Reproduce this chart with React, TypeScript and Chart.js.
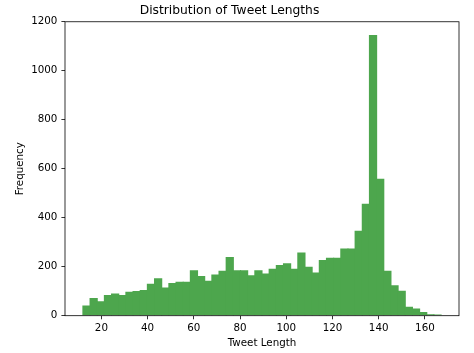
import React, { useEffect, useRef } from "react";
import { Chart, registerables } from "chart.js";

Chart.register(...registerables);

const TITLE = "Distribution of Tweet Lengths";
const X_LABEL = "Tweet Length";
const Y_LABEL = "Frequency";

const BIN_MIN = 12;
const BIN_MAX = 167;
const frequencies = [
  42, 72, 59, 85, 91, 85, 98, 101, 105, 130,
  153, 115, 134, 139, 139, 186, 162, 143, 168, 183,
  240, 186, 186, 165, 186, 172, 192, 207, 214, 192,
  258, 200, 176, 227, 237, 237, 274, 274, 347, 457,
  1146, 559, 184, 124, 102, 37, 29, 15, 6, 5,
];
const xTicks = [20, 40, 60, 80, 100, 120, 140, 160];
const yTicks = [0, 200, 400, 600, 800, 1000, 1200];

const FONT = "'DejaVu Sans', sans-serif";

const framePlugin = {
  id: "frame",
  afterDatasetsDraw(chart: any) {
    const { ctx, chartArea } = chart;
    ctx.save();
    ctx.strokeStyle = "#000";
    ctx.lineWidth = 0.8;
    ctx.strokeRect(chartArea.left, chartArea.top, chartArea.right - chartArea.left, chartArea.bottom - chartArea.top);
    ctx.restore();
  },
};

export default function App() {
  const ref = useRef<HTMLCanvasElement>(null);
  useEffect(() => {
    const n = frequencies.length;
    const w = (BIN_MAX - BIN_MIN) / n;
    const data = frequencies.map((f, i) => ({ x: BIN_MIN + w * (i + 0.5), y: f }));
    const span = BIN_MAX - BIN_MIN;
    const chart = new Chart(ref.current!, {
      type: "bar",
      data: {
        datasets: [
          {
            data,
            backgroundColor: "rgb(77,166,77)",
            borderWidth: 0,
            inflateAmount: 0,
            barPercentage: 1.15,
            categoryPercentage: 1,
          } as any,
        ],
      },
      plugins: [framePlugin],
      options: {
        responsive: false,
        animation: false,
        layout: { padding: { left: 0, right: 15, top: 0, bottom: 0 } },
        plugins: {
          legend: { display: false },
          tooltip: { enabled: false },
          title: {
            display: true,
            text: TITLE,
            color: "#000",
            font: { family: FONT, size: 12.3, weight: "normal" as any },
            padding: { top: 3, bottom: 4 },
          },
        },
        scales: {
          x: {
            type: "linear",
            min: BIN_MIN - span * 0.05,
            max: BIN_MAX + span * 0.05,
            offset: false,
            afterBuildTicks: (s: any) => {
              s.ticks = xTicks.map((v) => ({ value: v }));
            },
            afterFit: (s: any) => {
              s.height = 37.3;
            },
            grid: { offset: false, drawOnChartArea: false, drawTicks: true, tickLength: 3.6, color: "#000", lineWidth: 0.8 },
            border: { display: false },
            ticks: { color: "#000", font: { family: FONT, size: 10.3 }, padding: 3, maxRotation: 0, callback: (v: any) => String(v) },
            title: { display: true, text: X_LABEL, color: "#000", font: { family: FONT, size: 10.3 }, padding: { top: 0, bottom: 3.8 } },
          },
          y: {
            min: 0,
            max: 1200,
            afterBuildTicks: (s: any) => {
              s.ticks = yTicks.map((v) => ({ value: v }));
            },
            afterFit: (s: any) => {
              s.width = 65;
            },
            grid: { drawOnChartArea: false, drawTicks: true, tickLength: 3.6, color: "#000", lineWidth: 0.8 },
            border: { display: false },
            ticks: { color: "#000", font: { family: FONT, size: 10.3 }, padding: 4, callback: (v: any) => String(v) },
            title: { display: true, text: Y_LABEL, color: "#000", font: { family: FONT, size: 10.3 }, padding: { top: 14.3, bottom: 0 } },
          },
        },
      },
    });
    return () => chart.destroy();
  }, []);
  return (
    <div style={{ position: "fixed", left: 0, top: 0, width: 474, height: 353, background: "#fff" }}>
      <canvas ref={ref} width={474} height={353} style={{ display: "block" }} />
    </div>
  );
}
